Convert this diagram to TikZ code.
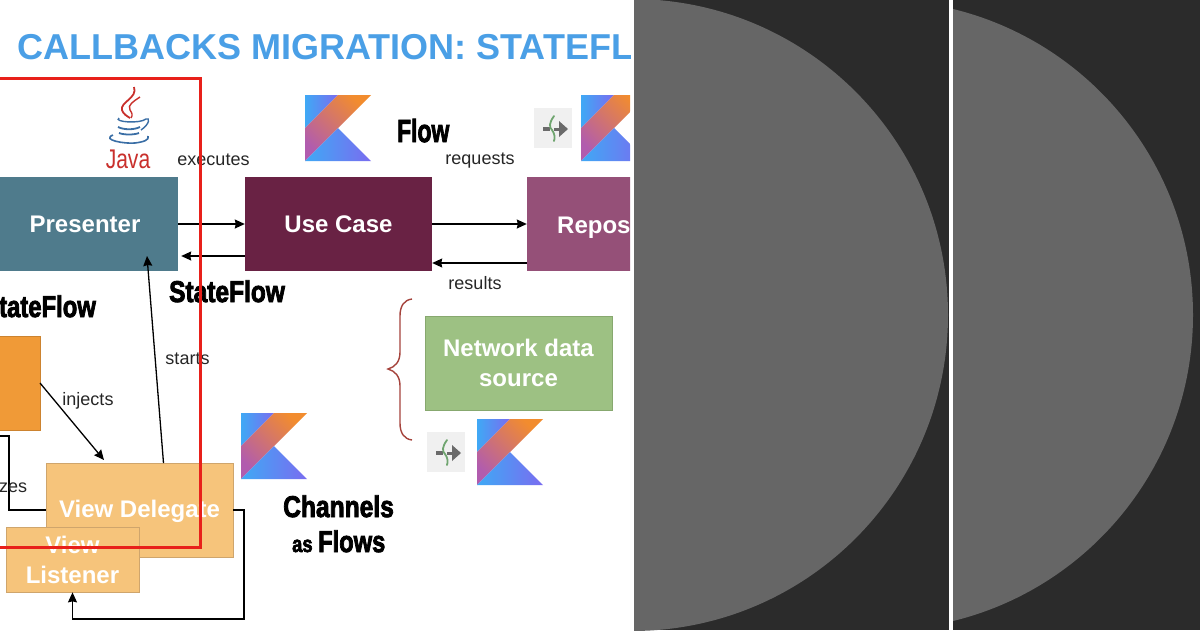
\documentclass[tikz,border=0pt]{standalone}
\usepackage{fontspec}
\setmainfont{Liberation Sans}
\newfontfamily\impactf[BoldFeatures={FakeBold=3}]{Liberation Sans}
\usetikzlibrary{arrows.meta,positioning}
\definecolor{titleblue}{HTML}{4A9FE6}
\definecolor{framered}{HTML}{E8201A}
\definecolor{presenterc}{HTML}{4F7B8C}
\definecolor{usecasec}{HTML}{692244}
\definecolor{repoc}{HTML}{955078}
\definecolor{orangec}{HTML}{F09A37}
\definecolor{lightorange}{HTML}{F6C47B}
\definecolor{lightborder}{HTML}{CFA56C}
\definecolor{greenc}{HTML}{9DC183}
\definecolor{greenb}{HTML}{87A86F}
\definecolor{bracec}{HTML}{A5433C}
\definecolor{panelgray}{HTML}{666666}
\definecolor{paneldark}{HTML}{2B2B2B}
\definecolor{kblue}{HTML}{3FA9F5}
\definecolor{kpurple}{HTML}{7A6CF0}
\definecolor{korange}{HTML}{F28C2E}
\definecolor{kmid}{HTML}{E0755A}
\definecolor{kpink}{HTML}{B15CAE}
\definecolor{javablue}{HTML}{3A6EA5}
\definecolor{javared}{HTML}{C9302C}
\definecolor{iconbg}{HTML}{F0F0F0}
\definecolor{icongray}{HTML}{6A6A6A}
\definecolor{icongreen}{HTML}{6FA56F}
\tikzset{
  x=1pt,y=-1pt,
  blockbox/.style={draw=none,minimum height=94pt,inner sep=0pt,text=white,align=center,
    font=\fontsize{24}{30}\selectfont\bfseries},
  softbox/.style={blockbox,fill=lightorange,draw=lightborder,line width=.7pt},
  arr/.style={draw=black,line width=1.3pt,-{Stealth[length=10pt,width=9pt,inset=1pt]}},
  plainline/.style={draw=black,line width=1.3pt},
  lbl/.style={inner sep=0pt,font=\fontsize{18}{20}\selectfont,text=black!85},
  heavy/.style={inner sep=0pt,anchor=base west,text=black,font=\impactf\bfseries\fontsize{#1}{#1}\selectfont},
  pics/kotlin/.style={code={
    \begin{scope}[scale=#1]
    \shade[left color=kblue,right color=kpurple] (0,0) -- (.5,0) -- (0,.5) -- cycle;
    \shade[top color=korange,middle color=kmid,bottom color=kpink,shading angle=-45] (.5,0) -- (1,0) -- (0,1) -- (0,.5) -- cycle;
    \shade[left color=kblue,right color=kpurple] (.5,.5) -- (1,1) -- (0,1) -- cycle;
    \end{scope}
  }},
  pics/suspend/.style={code={
    \fill[iconbg] (0,0) rectangle (38,40);
    \draw[icongray,line width=4.5pt] (9,21) -- (15.5,21);
    \draw[icongreen,line width=1.8pt,line cap=round] (20,8) .. controls (15,15) and (15,19) .. (18,22) .. controls (21,26) and (21,30) .. (20,33);
    \draw[icongray,line width=3pt] (20,21) -- (26,21);
    \fill[icongray] (25,13) -- (34,21) -- (25,29) -- cycle;
  }}
}
\begin{document}
\begin{tikzpicture}
\useasboundingbox (0,0) rectangle (1200,630);
\fill[white] (0,0) rectangle (1200,630);

% right-hand panels
\fill[paneldark] (634,0) rectangle (949,630);
\begin{scope}
  \clip (634,0) rectangle (949,630);
  \fill[panelgray] (632,315) circle [radius=316];
\end{scope}
\fill[paneldark] (953,0) rectangle (1200,630);
\begin{scope}
  \clip (953,0) rectangle (1200,630);
  \fill[panelgray] (878,315) circle [radius=315];
\end{scope}

\begin{scope}
\clip (0,0) rectangle (630,630);

\node[anchor=base west,inner sep=0pt,text=titleblue,font=\fontsize{36}{40}\selectfont\bfseries] (title) at (17,59) {CALLBACKS MIGRATION: STATEFL};

% blocks
\node[blockbox,fill=presenterc,minimum width=198pt] (pres) at (79,224) {};
\node[text=white,inner sep=0pt,font=\fontsize{24}{30}\selectfont\bfseries] (prestext) at (85,224.5) {Presenter};
\node[blockbox,fill=usecasec,minimum width=187pt] (uc) at (338.5,224) {Use Case};
\node[blockbox,fill=repoc,minimum width=120pt] (repo) at (587,224) {};
\node[anchor=base west,text=white,inner sep=0pt,font=\fontsize{24}{30}\selectfont\bfseries] (repotext) at (557,233) {Repos};
\node[blockbox,fill=orangec,draw=orangec!85!black,line width=.5pt,minimum width=60pt] (dep) at (10,383) {};
\node[blockbox,fill=greenc,draw=greenb,line width=.7pt,minimum width=187pt] (net) at (518.5,363) {Network data\\source};
\node[softbox,minimum width=187pt] (vd) at (139.5,510) {};
\node[text=white,inner sep=0pt,font=\fontsize{24}{30}\selectfont\bfseries] (vdtext) at (139.5,511) {View Delegate};
\node[softbox,minimum width=133pt,minimum height=65pt] (vl) at (72.5,559.5) {View\\Listener};

% connectors
\draw[arr] (pres.east) -- (uc.west);
\draw[arr] ([yshift=-32pt]uc.west) -- ([xshift=3pt,yshift=-32pt]pres.east);
\draw[arr] (uc.east) -- (repo.west);
\draw[arr] ([yshift=-39pt]repo.west) -- ([yshift=-39pt]uc.east);
\coordinate (injS) at (40,383);
\coordinate (injE) at (104,460);
\draw[arr] (injS) -- (injE);
\coordinate (startS) at (163.5,463);
\coordinate (startE) at (147,256);
\draw[arr] (startS) -- (startE);
\coordinate (leftEnd) at (0,436);
\draw[plainline] (vd.west) -| (9,436) -- (leftEnd);
\draw[arr] (vd.east) -- (244,510) |- (72.5,619) -- (vl.south);

% labels
\node[lbl] (l1) at (213.5,159.5) {executes};
\node[lbl] (l2) at (480,160.5) {requests};
\node[lbl] (l3) at (475,283) {results};
\node[lbl] (l4) at (187.5,359) {starts};
\node[lbl] (l5) at (88,400.5) {injects};
\node[lbl,anchor=west] (l6) at (-1,488) {zes};

\node[heavy=30,xscale=.817] (h1) at (169,302) {StateFlow};
\node[heavy=30,xscale=.795] (h2) at (-1,317) {tateFlow};
\node[heavy=32,xscale=.716] (h3) at (397,142) {Flow};
\node[heavy=30,xscale=.82] (h4) at (283,517) {Channels};
\node[heavy=23,xscale=.8] (h5) at (292,552) {as};
\node[heavy=30,xscale=.79] (h6) at (318,552) {Flows};

% brace
\draw[bracec,line width=1.4pt] (412,299) .. controls (404,300) and (400,306) .. (400,316)
  -- (400,352) .. controls (400,362) and (395,367) .. (388,369)
  .. controls (395,371) and (400,376) .. (400,386)
  -- (400,423) .. controls (400,433) and (404,439) .. (412,440);

% logos
\pic at (305,95) {kotlin=66};
\pic at (581,95) {kotlin=66};
\pic at (241,413) {kotlin=66};
\pic at (477,419) {kotlin=66};
\pic at (534,108) {suspend};
\pic at (427,432) {suspend};

% Java logo
\draw[javared,line width=1.8pt] (134,87) .. controls (138,98) and (120,102) .. (122,110) .. controls (123,114) and (127,116) .. (130,118);
\draw[javared,line width=1.4pt] (140,97) .. controls (134,101) and (127,105) .. (130,110) .. controls (132,113) and (133,115) .. (131,118);
\draw[javablue,line width=1.4pt] (119,118) .. controls (113,122) and (140,124) .. (146,119) .. controls (150,117) and (150,124) .. (141,130);
\draw[javablue,line width=1.8pt] (118,127) .. controls (124,130) and (134,130) .. (140,127);
\draw[javablue,line width=1.8pt] (119,133) .. controls (124,135) and (134,135) .. (139,133);
\draw[javablue,line width=1.6pt] (113,135) .. controls (101,140) and (125,144) .. (135,143) .. controls (143,142) and (150,140) .. (148,136);
\node[anchor=base,inner sep=0pt,text=javared,xscale=.78,font=\fontsize{27}{30}\selectfont] (java) at (128,168) {Java};

% frame on top
\draw[framered,line width=3pt] (-5,78) -- (200,78) -- (200,547) -- (-5,547);
\end{scope}
\end{tikzpicture}
\end{document}
